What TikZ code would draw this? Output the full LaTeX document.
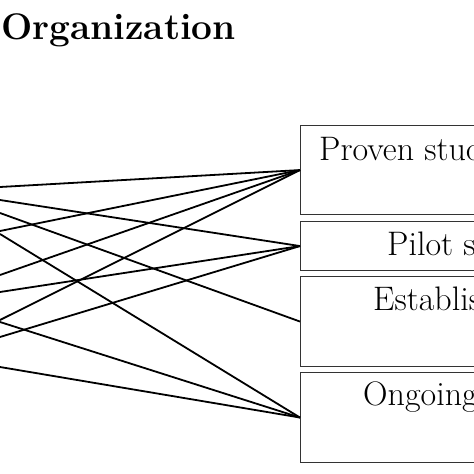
\documentclass[tikz,border=0pt]{standalone}
\begin{document}
\begin{tikzpicture}[x=1pt,y=-1pt,
  boxst/.style={draw=black!80, line width=1.1pt, rectangle, minimum width=220pt, inner sep=0pt, anchor=north west},
  link/.style={line width=1.8pt, black},
  lbl/.style={anchor=base west, inner sep=0pt, font=\fontsize{34}{36}\selectfont},
  ttl/.style={anchor=base west, inner sep=0pt, font=\fontsize{37}{40}\selectfont\bfseries}]
\useasboundingbox (0,0) rectangle (474,474);
\clip (0,0) rectangle (474,474);
\node[ttl] (title) at (1,39) {Organization};
\node[boxst, minimum height=89pt] (b1) at (300,125) {};
\node[boxst, minimum height=49pt] (b2) at (300,221) {};
\node[boxst, minimum height=90pt] (b3) at (300,276) {};
\node[boxst, minimum height=90pt] (b4) at (300,372) {};
\node[lbl] (t1) at (319,160) {Proven studies};
\node[lbl] (t2) at (387,255) {Pilot studies};
\node[lbl] (t3) at (373,310) {Established};
\node[lbl] (t4) at (363,405) {Ongoing};
\coordinate (l1) at (0,187);
\coordinate (l2) at (0,200);
\coordinate (l3) at (0,213);
\coordinate (l4) at (0,231);
\coordinate (l5) at (0,234);
\coordinate (l6) at (0,275);
\coordinate (l7) at (0,292);
\coordinate (l8) at (0,320);
\coordinate (l9) at (0,322);
\coordinate (l10) at (0,337);
\coordinate (l11) at (0,367);
\draw[link] (l1) -- (b1.west);
\draw[link] (l4) -- (b1.west);
\draw[link] (l6) -- (b1.west);
\draw[link] (l8) -- (b1.west);
\draw[link] (l2) -- (b2.west);
\draw[link] (l7) -- (b2.west);
\draw[link] (l10) -- (b2.west);
\draw[link] (l3) -- (b3.west);
\draw[link] (l5) -- (b4.west);
\draw[link] (l9) -- (b4.west);
\draw[link] (l11) -- (b4.west);
\end{tikzpicture}
\end{document}
